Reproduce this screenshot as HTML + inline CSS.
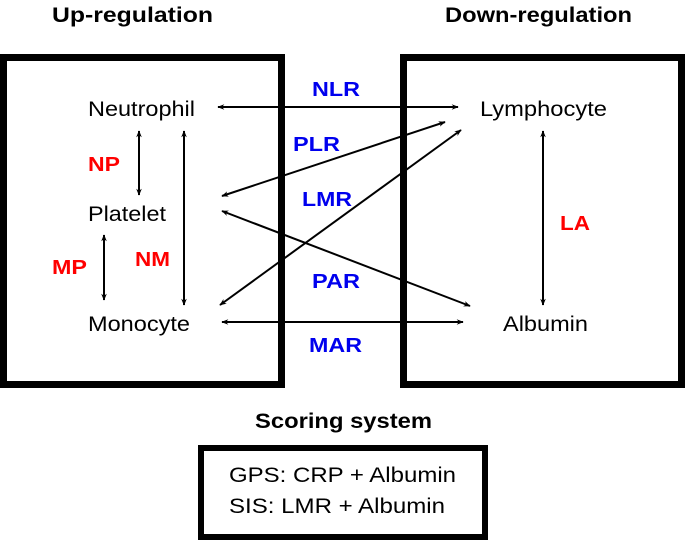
<!DOCTYPE html>
<html><head><meta charset="utf-8"><style>html,body{margin:0;padding:0;background:#fff}svg{display:block}</style></head>
<body>
<svg width="685" height="544" viewBox="0 0 685 544" xmlns="http://www.w3.org/2000/svg" font-family="Liberation Sans, Arial, sans-serif">
<defs>
<marker id="a" viewBox="0 0 10 10" refX="9" refY="5" markerWidth="7" markerHeight="7" orient="auto-start-reverse" markerUnits="userSpaceOnUse">
<path d="M0,1 L10,5 L0,9 L3,5 z" fill="#000"/></marker>
</defs>
<rect x="3.5" y="57.5" width="278" height="327" fill="none" stroke="#000" stroke-width="7"/>
<rect x="403.5" y="57.5" width="278" height="327" fill="none" stroke="#000" stroke-width="7"/>
<rect x="201" y="448" width="284" height="89" fill="none" stroke="#000" stroke-width="6"/>
<g font-weight="bold" font-size="21" fill="#000">
<text x="52" y="22" textLength="161" lengthAdjust="spacingAndGlyphs">Up-regulation</text>
<text x="445" y="22" textLength="187" lengthAdjust="spacingAndGlyphs">Down-regulation</text>
<text x="255" y="428" textLength="177" lengthAdjust="spacingAndGlyphs">Scoring system</text>
</g>
<g font-size="21" fill="#000">
<text x="88" y="116" textLength="107" lengthAdjust="spacingAndGlyphs">Neutrophil</text>
<text x="480" y="116" textLength="127" lengthAdjust="spacingAndGlyphs">Lymphocyte</text>
<text x="88" y="221" textLength="78" lengthAdjust="spacingAndGlyphs">Platelet</text>
<text x="88" y="331" textLength="102" lengthAdjust="spacingAndGlyphs">Monocyte</text>
<text x="503" y="331" textLength="85" lengthAdjust="spacingAndGlyphs">Albumin</text>
<text x="229" y="482" textLength="227" lengthAdjust="spacingAndGlyphs">GPS: CRP + Albumin</text>
<text x="229" y="513" textLength="216" lengthAdjust="spacingAndGlyphs">SIS: LMR + Albumin</text>
</g>
<g font-weight="bold" font-size="20" fill="#0000ee">
<text x="312" y="96" textLength="48" lengthAdjust="spacingAndGlyphs">NLR</text>
<text x="293" y="151" textLength="47" lengthAdjust="spacingAndGlyphs">PLR</text>
<text x="302" y="206" textLength="50" lengthAdjust="spacingAndGlyphs">LMR</text>
<text x="312" y="288" textLength="48" lengthAdjust="spacingAndGlyphs">PAR</text>
<text x="309" y="352" textLength="53" lengthAdjust="spacingAndGlyphs">MAR</text>
</g>
<g font-weight="bold" font-size="20" fill="#ff0000">
<text x="88" y="171" textLength="32" lengthAdjust="spacingAndGlyphs">NP</text>
<text x="52" y="274" textLength="35" lengthAdjust="spacingAndGlyphs">MP</text>
<text x="135" y="266" textLength="35" lengthAdjust="spacingAndGlyphs">NM</text>
<text x="560" y="230" textLength="30" lengthAdjust="spacingAndGlyphs">LA</text>
</g>
<g stroke="#000" stroke-width="2" fill="none" marker-start="url(#a)" marker-end="url(#a)">
<line x1="218" y1="107" x2="458" y2="107"/>
<line x1="222" y1="322" x2="463" y2="322"/>
<line x1="222" y1="196" x2="445" y2="122"/>
<line x1="220" y1="305" x2="461" y2="130"/>
<line x1="222" y1="211" x2="470" y2="306"/>
<line x1="139" y1="131" x2="139" y2="195"/>
<line x1="184" y1="131" x2="184" y2="305"/>
<line x1="104" y1="235" x2="104" y2="300"/>
<line x1="543" y1="131" x2="543" y2="305"/>
</g>
</svg>
</body></html>
